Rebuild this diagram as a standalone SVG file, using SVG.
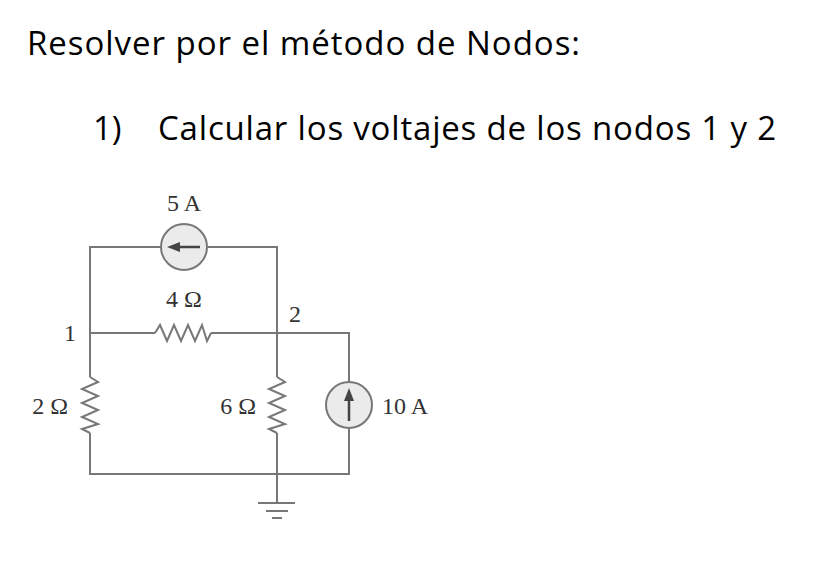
<svg xmlns="http://www.w3.org/2000/svg" width="828" height="573" viewBox="0 0 828 573">
<style>
.t{font-family:"Open Sans","Liberation Sans",sans-serif;font-size:33px;fill:#000}
.l{font-family:"Liberation Serif",serif;font-size:24px;fill:#333}
.w{fill:none;stroke:#777;stroke-width:2}
.src{fill:#ebebeb;stroke:#777;stroke-width:2}
</style>
<rect width="828" height="573" fill="#fff"/>
<text class="t" x="27" y="55" textLength="553">Resolver por el método de Nodos:</text>
<text class="t" x="93" y="140">1)</text>
<text class="t" x="158" y="140" textLength="618">Calcular los voltajes de los nodos 1 y 2</text>
<g id="wires" class="w">
<polyline points="161,247 90,247 90,377"/>
<polyline points="207,247 277,247 277,377"/>
<line x1="90" y1="333" x2="155" y2="333"/>
<polyline points="211,333 349,333 349,382"/>
<polyline points="90,433 90,474 349,474 349,428"/>
<line x1="277" y1="433" x2="277" y2="503"/>
</g>
<g id="R4" class="w"><polyline points="155,333 160,325 167,341 174,325 181,341 188,325 195,341 202,325 207,341 211,333"/></g>
<g id="R2" class="w"><polyline points="90,377 98,382 82,389 98,396 82,403 98,410 82,417 98,424 82,429 90,433"/></g>
<g id="R6" class="w"><polyline points="277,377 285,382 269,389 285,396 269,403 285,410 269,417 285,424 269,429 277,433"/></g>
<g id="I5">
<circle class="src" cx="184" cy="247" r="23"/>
<line x1="200" y1="247" x2="178" y2="247" stroke="#444" stroke-width="2.5"/>
<polygon points="167,247 180,242 180,252" fill="#444"/>
</g>
<g id="I10">
<circle class="src" cx="349" cy="405" r="23"/>
<line x1="349" y1="421" x2="349" y2="399" stroke="#444" stroke-width="2.5"/>
<polygon points="349,388 344,401 354,401" fill="#444"/>
</g>
<g id="gnd" class="w">
<line x1="258" y1="503" x2="295" y2="503"/>
<line x1="266" y1="511" x2="288" y2="511"/>
<line x1="272" y1="518" x2="282" y2="518"/>
</g>
<g id="labels">
<text class="l" x="184" y="211" text-anchor="middle">5 A</text>
<text class="l" x="184" y="307" text-anchor="middle">4 Ω</text>
<text class="l" x="289" y="322">2</text>
<text class="l" x="64" y="341">1</text>
<text class="l" x="68" y="414" text-anchor="end">2 Ω</text>
<text class="l" x="256" y="414" text-anchor="end">6 Ω</text>
<text class="l" x="382" y="414">10 A</text>
</g>
</svg>
